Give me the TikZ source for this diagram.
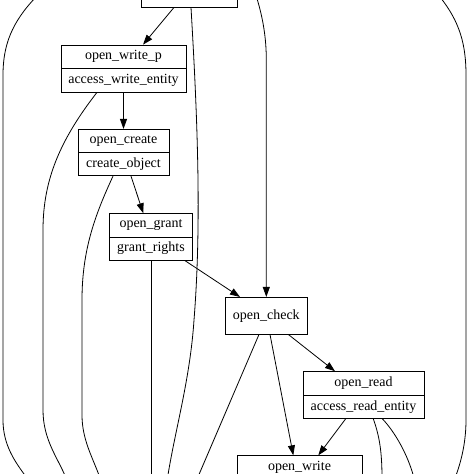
\documentclass[tikz,border=0pt]{standalone}
\usepackage{fontspec}
\setmainfont{Liberation Serif}
\usetikzlibrary{arrows.meta}
\begin{document}
\begin{tikzpicture}[x=1pt,y=-1pt,
  rec/.style={draw, line width=0.8pt, inner sep=0pt, minimum height=23.3pt, font=\fontsize{14}{16}\selectfont, anchor=center},
  ln/.style={line width=0.8pt},
  arr/.style={line width=0.8pt, -{Triangle[length=10pt,width=7pt]}}]
\clip (0,0) rectangle (474,474);
\useasboundingbox (0,0) rectangle (474,474);
% nodes
\node[rec, minimum width=96pt] (top) at (189.5,-4.6) {};
\node[rec, minimum width=125pt] (owp) at (123.5,56.7) {open\_write\_p};
\node[rec, minimum width=125pt] (owpb) at (123.5,80.3) {access\_write\_entity};
\node[rec, minimum width=91pt] (ocr) at (123.5,141) {open\_create};
\node[rec, minimum width=91pt] (ocrb) at (123.5,164.1) {create\_object};
\node[rec, minimum width=82.6pt] (ogr) at (151,225.3) {open\_grant};
\node[rec, minimum width=82.6pt] (ogrb) at (151,248.6) {grant\_rights};
\node[rec, minimum width=81.3pt, minimum height=36.7pt] (och) at (266.3,315.7) {open\_check};
\node[rec, minimum width=121pt] (ord) at (363.5,383.3) {open\_read};
\node[rec, minimum width=121pt] (ordb) at (363.5,406.7) {access\_read\_entity};
\node[rec, minimum width=125pt] (owr) at (299.5,467.4) {open\_write};
% free ends
\coordinate (lt) at (36,-3);
\coordinate (lb) at (27,478);
\coordinate (rt) at (440,-3);
\coordinate (rb) at (455,478);
\coordinate (ct) at (256.5,-3);
\coordinate (b1) at (66,478);
\coordinate (b2) at (100,478);
\coordinate (b3) at (151,478);
\coordinate (b4) at (167.5,478);
\coordinate (b5) at (197.5,478);
\coordinate (b6) at (382,478);
\coordinate (b7) at (414,478);
% outer curves
\draw[ln] (lt) .. controls (12,22) and (3,45) .. (3,75) -- (3,420) .. controls (3,445) and (15,462) .. (lb);
\draw[ln] (rt) .. controls (460,22) and (466,45) .. (466,75) -- (466,420) .. controls (466,445) and (460,465) .. (rb);
% edges
\draw[arr] ([xshift=-15.5pt]top.south) -- ([xshift=19.5pt]owp.north);
\draw[ln] ([xshift=1.5pt]top.south) .. controls (197,110) and (202,220) .. (194,320) .. controls (190,380) and (175,430) .. (b4);
\draw[arr] (ct) .. controls (263,18) and (266.3,38) .. (266.3,60) -- (och.north);
\draw[arr] (owpb.south) -- (ocr.north);
\draw[ln] ([xshift=-26.5pt]owpb.south) .. controls (60,140) and (43,180) .. (43,230) -- (43,410) .. controls (43,440) and (58,458) .. (b1);
\draw[ln] ([xshift=-10.5pt]ocrb.south) .. controls (95,215) and (82,250) .. (82,300) -- (82,415) .. controls (82,440) and (93,458) .. (b2);
\draw[arr] ([xshift=7.5pt]ocrb.south) -- ([xshift=-7.7pt]ogr.north);
\draw[ln] (ogrb.south) -- (b3);
\draw[arr] ([xshift=34pt]ogrb.south) -- ([xshift=-26.3pt]och.north);
\draw[ln] ([xshift=-7.3pt]och.south) -- (b5);
\draw[arr] ([xshift=3.7pt]och.south) -- ([xshift=-6.2pt]owr.north);
\draw[arr] ([xshift=22pt]och.south) -- ([xshift=-28.5pt]ord.north);
\draw[arr] ([xshift=-17.8pt]ordb.south) -- ([xshift=18.8pt]owr.north);
\draw[ln] ([xshift=9.8pt]ordb.south) .. controls (379,435) and (382,450) .. (b6);
\draw[ln] ([xshift=18.8pt]ordb.south) .. controls (395,432) and (408,455) .. (b7);
\end{tikzpicture}
\end{document}
